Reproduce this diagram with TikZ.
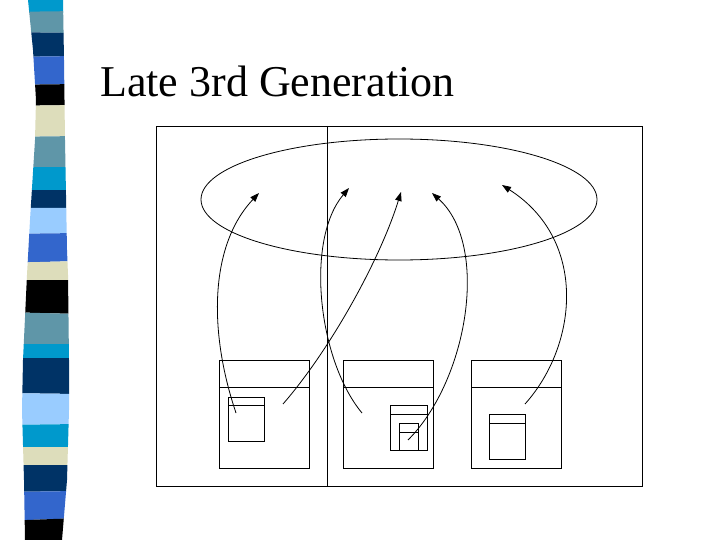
\documentclass[tikz,border=0pt]{standalone}
\usepackage{fontspec}
\setmainfont{Liberation Serif}
\usetikzlibrary{arrows.meta}
\definecolor{cCyan}{HTML}{0099CC}
\definecolor{cSteel}{HTML}{5F96A8}
\definecolor{cNavy}{HTML}{003366}
\definecolor{cRoyal}{HTML}{3366CC}
\definecolor{cBeige}{HTML}{DDDDBB}
\definecolor{cLight}{HTML}{99CCFF}
\tikzset{
  frame/.style={draw=black, line width=1pt},
  linkarrow/.style={draw=black, line width=0.8pt, -{Triangle[length=9pt,width=6.5pt]}},
  band/.style={fill=#1, draw=none}
}
\begin{document}
\begin{tikzpicture}[x=1pt,y=-1pt]
\useasboundingbox (0,0) rectangle (720,540);
\fill[white] (0,0) rectangle (720,540);
% decorative stripe
\begin{scope}
\clip (28,0) -- (33,50) -- (36,100) -- (35,140) -- (30,220) -- (27,275) -- (23,360) -- (22,410) -- (24,480) -- (25,540)
  -- (62,540) -- (67,480) -- (69,410) -- (69,360) -- (68,275) -- (67,250) -- (65,140) -- (64,60) -- (63,0) -- cycle;
\fill[cCyan]  (0,0) rectangle (80,13);
\fill[cSteel] (0,12) -- (80,11) -- (80,33) -- (0,32) -- cycle;
\fill[cNavy]  (0,32) -- (80,33) -- (80,56) -- (0,57) -- cycle;
\fill[cRoyal] (0,57) -- (80,56) -- (80,84) -- (0,85) -- cycle;
\fill[black]  (0,85) -- (80,84) -- (80,105) -- (0,106) -- cycle;
\fill[cBeige] (0,106) -- (80,105) -- (80,136) -- (0,137) -- cycle;
\fill[cSteel] (0,137) -- (80,136) -- (80,167) -- (0,167) -- cycle;
\fill[cCyan]  (0,167) -- (80,167) -- (80,190) -- (0,190) -- cycle;
\fill[cNavy]  (0,190) -- (80,190) -- (80,208) -- (0,208) -- cycle;
\fill[cLight] (0,208) -- (80,208) -- (80,233) -- (0,234) -- cycle;
\fill[cRoyal] (0,234) -- (80,233) -- (80,261) -- (0,263) -- cycle;
\fill[cBeige] (0,263) -- (80,261) -- (80,280) -- (0,280) -- cycle;
\fill[black]  (0,280) -- (80,280) -- (80,314) -- (0,312) -- cycle;
\fill[cSteel] (0,312) -- (80,314) -- (80,344) -- (0,344) -- cycle;
\fill[cCyan]  (0,344) -- (80,344) -- (80,358) -- (0,358) -- cycle;
\fill[cNavy]  (0,358) -- (80,358) -- (80,394) -- (0,393) -- cycle;
\fill[cLight] (0,393) -- (80,394) -- (80,424) -- (0,425) -- cycle;
\fill[cCyan]  (0,425) -- (80,424) -- (80,447) -- (0,447) -- cycle;
\fill[cBeige] (0,447) -- (80,447) -- (80,465) -- (0,465) -- cycle;
\fill[cNavy]  (0,465) -- (80,465) -- (80,491) -- (0,492) -- cycle;
\fill[cRoyal] (0,492) -- (80,491) -- (80,518) -- (0,521) -- cycle;
\fill[black]  (0,521) -- (80,518) -- (80,540) -- (0,540) -- cycle;
\end{scope}
% title
\node[anchor=base west, inner sep=0pt, font=\fontsize{44}{48}\selectfont] (title) at (100,97) {Late 3rd Generation};
% outer frame and divider
\node[frame, minimum width=486pt, minimum height=360pt, inner sep=0pt, anchor=north west] (outer) at (156,126) {};
\coordinate (divtop) at (327,126);
\coordinate (divbot) at (327,486);
\draw[frame] (divtop) -- (divbot);
% ellipse
\draw[line width=0.8pt] (399,199.5) ellipse [x radius=198, y radius=60.5];
% process boxes
\node[frame, minimum width=90pt, minimum height=108pt, inner sep=0pt, anchor=north west] (p1) at (219,360) {};
\node[frame, minimum width=90pt, minimum height=108pt, inner sep=0pt, anchor=north west] (p2) at (343,360) {};
\node[frame, minimum width=90pt, minimum height=108pt, inner sep=0pt, anchor=north west] (p3) at (471,360) {};
\draw[frame] (219,387) -- (309,387);
\draw[frame] (343,387) -- (433,387);
\draw[frame] (471,387) -- (561,387);
% small boxes
\node[frame, minimum width=36pt, minimum height=44pt, inner sep=0pt, anchor=north west] (s1) at (228,397) {};
\draw[frame] (228,405) -- (264,405);
\node[frame, minimum width=37pt, minimum height=45pt, inner sep=0pt, anchor=north west] (s2) at (390,405) {};
\draw[frame] (390,414) -- (427,414);
\node[frame, minimum width=19pt, minimum height=27pt, inner sep=0pt, anchor=north west] (s2i) at (399,423) {};
\draw[frame] (399,432) -- (418,432);
\node[frame, minimum width=36pt, minimum height=45pt, inner sep=0pt, anchor=north west] (s3) at (489,414) {};
\draw[frame] (489,423) -- (525,423);
% arrow endpoints
\coordinate (a1s) at (236,413); \coordinate (a1e) at (259,193);
\coordinate (a2s) at (283,404); \coordinate (a2e) at (401,192);
\coordinate (a3s) at (362,413); \coordinate (a3e) at (349,188);
\coordinate (a4s) at (408,440); \coordinate (a4e) at (432,193);
\coordinate (a5s) at (525,404); \coordinate (a5e) at (502,185);
\draw[linkarrow] (a1s) .. controls (208,330) and (210,245) .. (a1e);
\draw[linkarrow] (a2s) .. controls (330,350) and (380,260) .. (a2e);
\draw[linkarrow] (a3s) .. controls (318,360) and (305,240) .. (a3e);
\draw[linkarrow] (a4s) .. controls (468,380) and (490,245) .. (a4e);
\draw[linkarrow] (a5s) .. controls (578,345) and (588,240) .. (a5e);
\end{tikzpicture}
\end{document}
